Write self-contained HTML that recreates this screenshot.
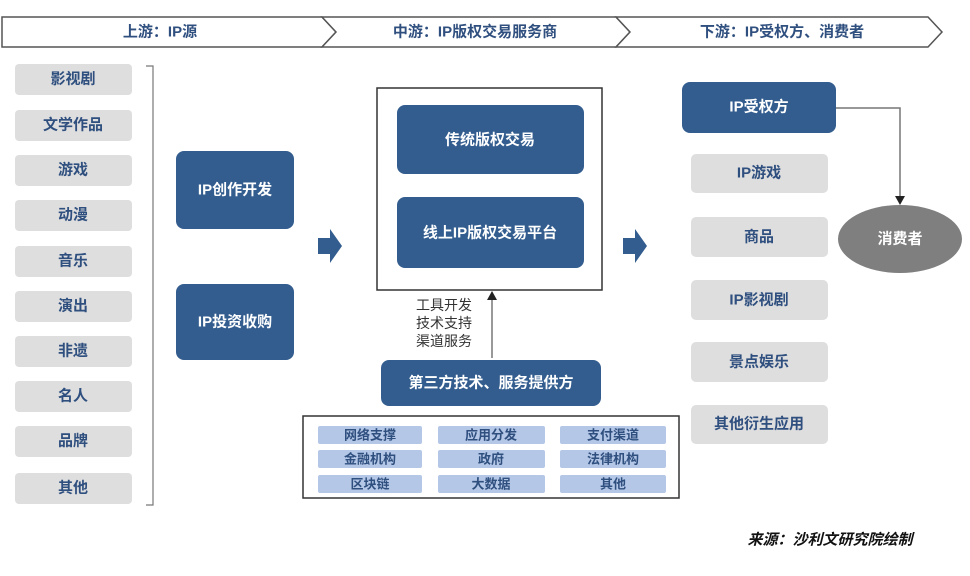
<!DOCTYPE html>
<html><head><meta charset="utf-8"><style>
body{margin:0;background:#fff}
svg text{font-family:"Liberation Sans","Noto Sans CJK SC",sans-serif;font-weight:bold;text-anchor:middle;dominant-baseline:central}
</style></head><body>
<svg width="970" height="571" viewBox="0 0 970 571" xmlns="http://www.w3.org/2000/svg">
<g fill="#fff" stroke="#555" stroke-width="1.5">
<polygon points="2,17 322,17 336,32 322,47 2,47"/>
<polygon points="322,17 616,17 630,32 616,47 322,47 336,32"/>
<polygon points="616,17 928,17 942,32 928,47 616,47 630,32"/>
</g>
<g fill="#2f4f7f" font-size="15">
<text x="160" y="32">上游：IP源</text>
<text x="475" y="32">中游：IP版权交易服务商</text>
<text x="782" y="32">下游：IP受权方、消费者</text>
</g>
<g fill="#dedede">
<rect x="15" y="64" width="117" height="31" rx="4"/>
<rect x="15" y="110" width="117" height="31" rx="4"/>
<rect x="15" y="155" width="117" height="31" rx="4"/>
<rect x="15" y="200" width="117" height="31" rx="4"/>
<rect x="15" y="246" width="117" height="31" rx="4"/>
<rect x="15" y="291" width="117" height="31" rx="4"/>
<rect x="15" y="336" width="117" height="31" rx="4"/>
<rect x="15" y="381" width="117" height="31" rx="4"/>
<rect x="15" y="426" width="117" height="31" rx="4"/>
<rect x="15" y="473" width="117" height="31" rx="4"/>
</g>
<g fill="#2f4f7f" font-size="15">
<text x="73" y="79">影视剧</text><text x="73" y="125">文学作品</text><text x="73" y="170">游戏</text><text x="73" y="215">动漫</text><text x="73" y="261">音乐</text><text x="73" y="306">演出</text><text x="73" y="351">非遗</text><text x="73" y="396">名人</text><text x="73" y="441">品牌</text><text x="73" y="488">其他</text>
</g>
<polyline points="146,66 153,66 153,505 146,505" fill="none" stroke="#777" stroke-width="1.2"/>
<g fill="#335d8f">
<rect x="176" y="151" width="118" height="78" rx="8"/>
<rect x="176" y="284" width="118" height="76" rx="8"/>
<rect x="397" y="105" width="187" height="69" rx="8"/>
<rect x="397" y="197" width="187" height="71" rx="8"/>
<rect x="381" y="360" width="220" height="46" rx="8"/>
<rect x="682" y="82" width="154" height="51" rx="8"/>
<polygon points="318,238 330,238 330,229 342,246 330,263 330,254 318,254"/>
<polygon points="623,238 635,238 635,229 647,246 635,263 635,254 623,254"/>
</g>
<g fill="#fff" font-size="15">
<text x="235" y="190">IP创作开发</text>
<text x="235" y="322">IP投资收购</text>
<text x="490" y="140">传统版权交易</text>
<text x="490" y="233">线上IP版权交易平台</text>
<text x="491" y="383">第三方技术、服务提供方</text>
<text x="759" y="107">IP受权方</text>
</g>
<rect x="377" y="88" width="225" height="202" fill="none" stroke="#333" stroke-width="1.5"/>
<line x1="492" y1="358" x2="492" y2="298" stroke="#555" stroke-width="1.2"/>
<polygon points="487,300 497,300 492,291" fill="#222"/>
<g fill="#333" font-size="14">
<text x="444" y="305" style="font-weight:normal">工具开发</text>
<text x="444" y="323" style="font-weight:normal">技术支持</text>
<text x="444" y="341" style="font-weight:normal">渠道服务</text>
</g>
<rect x="303" y="416" width="376" height="82" fill="#fff" stroke="#333" stroke-width="1.5"/>
<g fill="#b4c7e7">
<rect x="318" y="426" width="104" height="18" rx="2"/><rect x="438" y="426" width="107" height="18" rx="2"/><rect x="560" y="426" width="106" height="18" rx="2"/>
<rect x="318" y="450" width="104" height="18" rx="2"/><rect x="438" y="450" width="107" height="18" rx="2"/><rect x="560" y="450" width="106" height="18" rx="2"/>
<rect x="318" y="475" width="104" height="18" rx="2"/><rect x="438" y="475" width="107" height="18" rx="2"/><rect x="560" y="475" width="106" height="18" rx="2"/>
</g>
<g fill="#2f4f7f" font-size="13">
<text x="370" y="435">网络支撑</text><text x="491" y="435">应用分发</text><text x="613" y="435">支付渠道</text>
<text x="370" y="459">金融机构</text><text x="491" y="459">政府</text><text x="613" y="459">法律机构</text>
<text x="370" y="484">区块链</text><text x="491" y="484">大数据</text><text x="613" y="484">其他</text>
</g>
<g fill="#dedede">
<rect x="691" y="154" width="137" height="39" rx="5"/>
<rect x="691" y="217" width="137" height="40" rx="5"/>
<rect x="691" y="280" width="137" height="40" rx="5"/>
<rect x="691" y="342" width="137" height="40" rx="5"/>
<rect x="691" y="405" width="137" height="39" rx="5"/>
</g>
<g fill="#2f4f7f" font-size="15">
<text x="759" y="173">IP游戏</text><text x="759" y="237">商品</text><text x="759" y="300">IP影视剧</text><text x="759" y="362">景点娱乐</text><text x="759" y="424">其他衍生应用</text>
</g>
<polyline points="836,108 900,108 900,198" fill="none" stroke="#777" stroke-width="1.5"/>
<polygon points="895,196 905,196 900,205" fill="#222"/>
<ellipse cx="900" cy="239" rx="62" ry="34" fill="#7f7f7f"/>
<text x="900" y="239" fill="#fff" font-size="15">消费者</text>
<text x="830" y="540" fill="#111" font-size="15" style="font-style:italic">来源：沙利文研究院绘制</text>
</svg>
</body></html>
